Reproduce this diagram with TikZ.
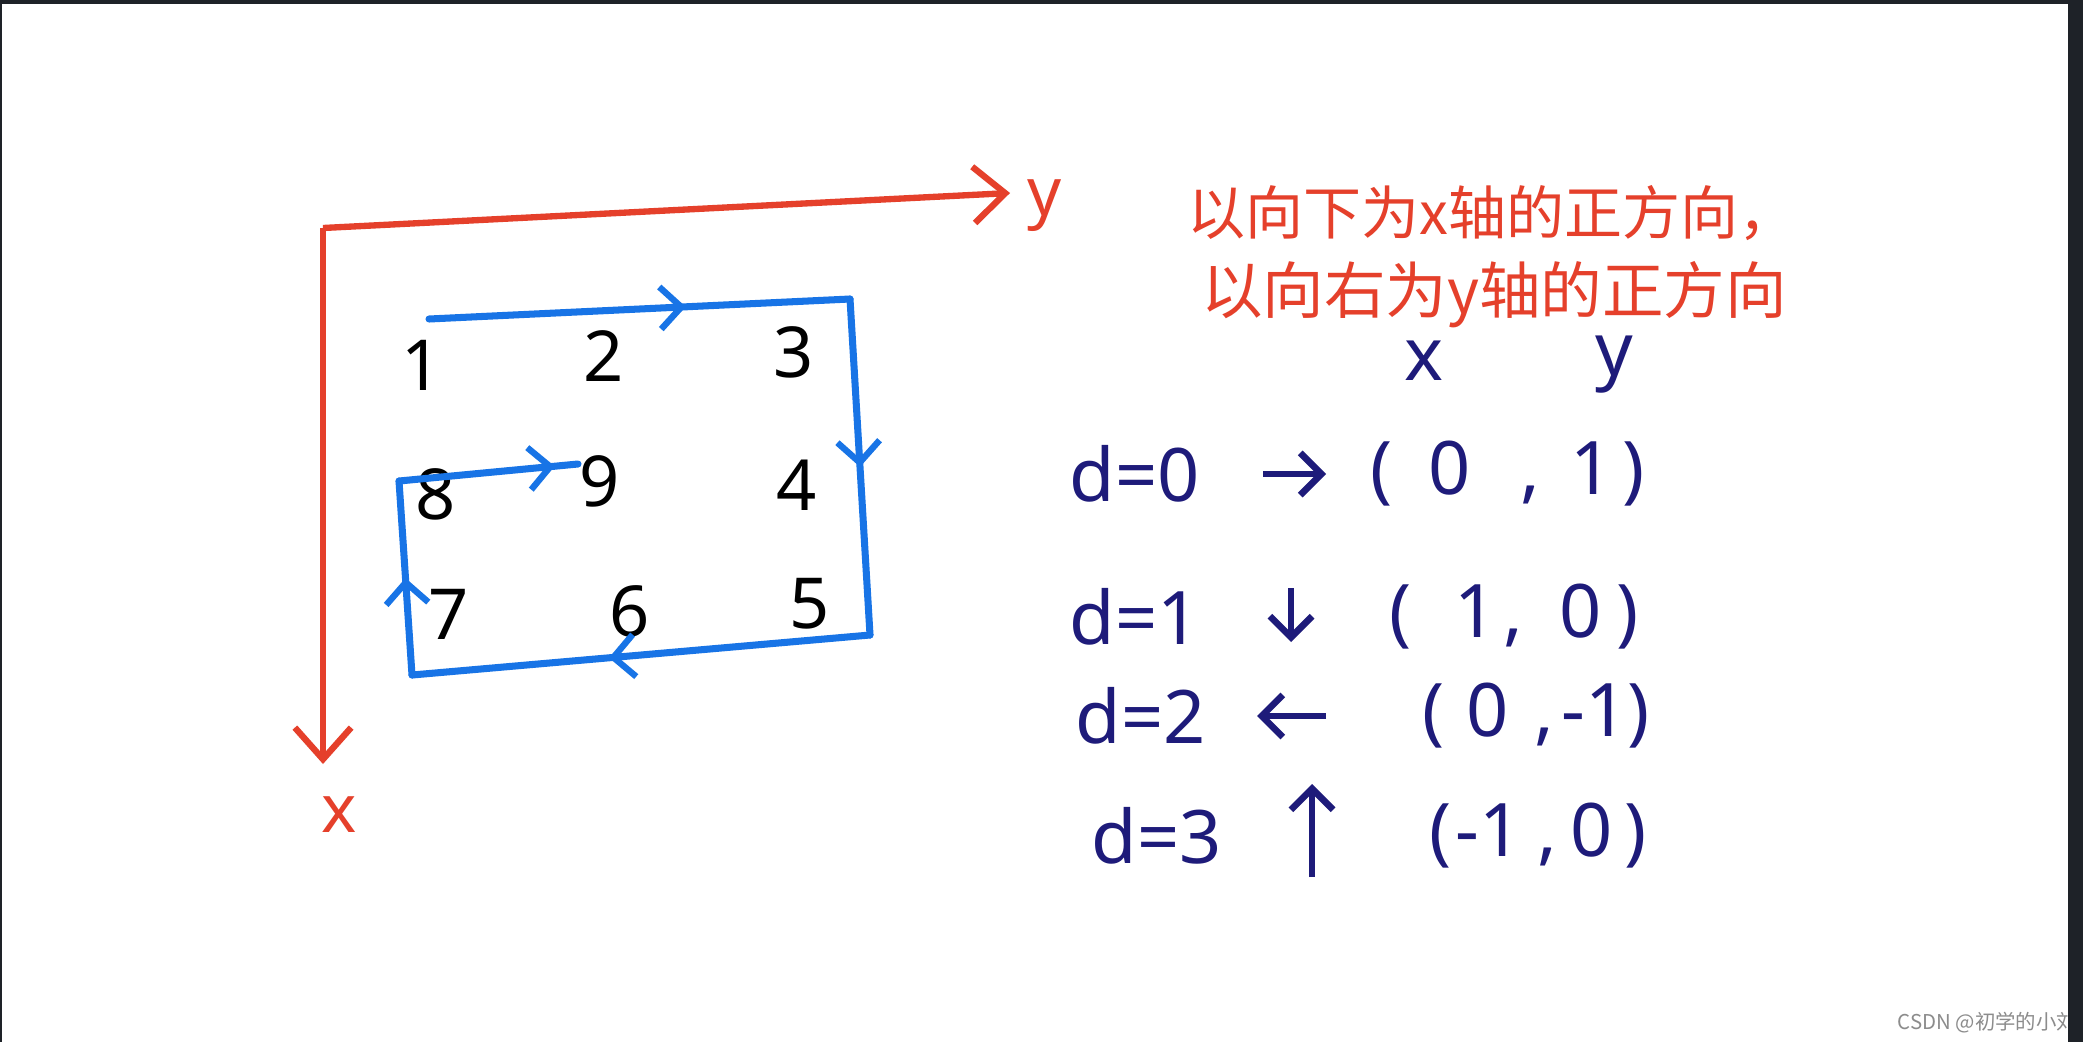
\documentclass[tikz,border=0pt]{standalone}
\usepackage{fontspec}
\setmainfont{Noto Sans}
\newfontfamily\cjk{Noto Sans CJK SC}
\usetikzlibrary{arrows.meta, decorations.markings}
\definecolor{axisred}{HTML}{E5402B}
\definecolor{pathblue}{HTML}{1874E6}
\definecolor{inknavy}{HTML}{1E1B7A}
\definecolor{framegray}{HTML}{1E2228}
\tikzset{
    axis/.style={axisred, line width=1.8pt, -{Straight Barb[length=9pt, width=16pt, line width=1.8pt]}},
    route/.style={pathblue, line width=2pt, line cap=round},
    flow/.style={postaction={decorate}, decoration={markings, mark=at position #1 with {\arrow{Straight Barb[length=6pt, width=12pt, line width=1.8pt]}}}},
    num/.style={font=\fontsize{20}{24}\selectfont},
    note/.style={text=axisred, font=\cjk\fontsize{#1}{20}\selectfont},
    axlabel/.style={text=axisred, font=\fontsize{19}{22}\selectfont},
    row/.style={text=inknavy, font=\fontsize{21}{26}\selectfont},
    dir/.style={inknavy, line width=1.9pt, -{Straight Barb[length=6pt, width=12pt, line width=1.9pt]}},
}

\begin{document}
\begin{tikzpicture}[x=0.01cm, y=-0.01cm]
  \fill[white] (0,0) rectangle (2083,1042);
  \useasboundingbox (0,0) rectangle (2083,1042);

  % axes
  \coordinate (O) at (323,228);
  \coordinate (yend) at (1010,193);
  \coordinate (xend) at (323,764);
  \draw[axis] (O) -- (yend);
  \draw[axis] (O) -- (xend);
  \node[axlabel] (ylab) at (1045,206) {y};
  \node[axlabel] (xlab) at (339,815) {x};

  % cells
  \node[num] (n1) at (422,365) {1};
  \node[num] (n2) at (604,356) {2};
  \node[num] (n3) at (794,352) {3};
  \node[num] (n8) at (436,494) {8};
  \node[num] (n9) at (600,481) {9};
  \node[num] (n4) at (797,485) {4};
  \node[num] (n7) at (449,614) {7};
  \node[num] (n6) at (630,611) {6};
  \node[num] (n5) at (810,604) {5};

  % spiral route
  \coordinate (r1) at (429,319);
  \coordinate (r2) at (850,299);
  \coordinate (r3) at (870,635);
  \coordinate (r4) at (412,675);
  \coordinate (r5) at (399,481);
  \coordinate (r6) at (578,464);
  \draw[route, flow=0.61] (r1) -- (r2);
  \draw[route, flow=0.5] (r2) -- (r3);
  \draw[route, flow=0.57] (r3) -- (r4);
  \draw[route, flow=0.5] (r4) -- (r5);
  \draw[route, flow=0.87] (r5) -- (r6);

  % notes
  \node[note=16.5] (line1) at (1492,213) {以向下为x轴的正方向，};
  \node[note=17.5] (line2) at (1494,295) {以向右为y轴的正方向};

  % direction table
  \node[row] (hx) at (1424,361) {x};
  \node[row] (hy) at (1614,365) {y};

  \node[row, anchor=east] (d0) at (1212,474) {d=0};
  \coordinate (a0s) at (1263,474);
  \coordinate (a0e) at (1326,474);
  \draw[dir] (a0s) -- (a0e);
  \node[row] (t0) at (1508,474) {(\hspace{.48em}0\hspace{.68em},\hspace{.4em}1\hspace{.14em})};

  \node[row, anchor=east] (d1) at (1212,617) {d=1};
  \coordinate (a1s) at (1291,588);
  \coordinate (a1e) at (1291,642);
  \draw[dir] (a1s) -- (a1e);
  \node[row] (t1) at (1514,617) {(\hspace{.58em}1\hspace{.08em},\hspace{.5em}0\hspace{.19em})};

  \node[row, anchor=east] (d2) at (1218,716) {d=2};
  \coordinate (a2s) at (1326,716);
  \coordinate (a2e) at (1257,716);
  \draw[dir] (a2s) -- (a2e);
  \node[row] (t2) at (1536,716) {(\hspace{.3em}0\hspace{.35em},\hspace{.1em}-1)};

  \node[row, anchor=east] (d3) at (1234,836) {d=3};
  \coordinate (a3s) at (1312,877);
  \coordinate (a3e) at (1312,784);
  \draw[dir] (a3s) -- (a3e);
  \node[row] (t3) at (1538,836) {(\hspace{.05em}-1\hspace{.21em},\hspace{.18em}0\hspace{.16em})};

  % watermark
  \node[anchor=west, inner sep=0pt, text=black!45, font=\cjk\fontsize{5.8}{7}\selectfont] (mark) at (1897,1023) {CSDN @初学的小刘};

  % screen frame
  \fill[framegray] (0,0) rectangle (2083,4);
  \fill[framegray] (0,0) rectangle (2,1042);
  \fill[framegray] (2068,0) rectangle (2083,1042);
\end{tikzpicture}
\end{document}
